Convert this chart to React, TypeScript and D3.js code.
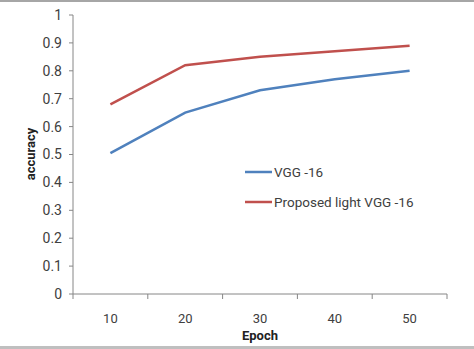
import React from "react";
import * as d3 from "d3";

const epochs = ["10", "20", "30", "40", "50"];
const vgg16 = [0.505, 0.65, 0.73, 0.77, 0.80];
const proposed = [0.68, 0.82, 0.85, 0.87, 0.89];
const yTicks = [0, 0.1, 0.2, 0.3, 0.4, 0.5, 0.6, 0.7, 0.8, 0.9, 1];
const seriesNames = ["VGG -16", "Proposed light VGG -16"];
const colors = ["#4F81BD", "#C0504D"];

const W = 474, H = 349;
const font = "'Liberation Sans Narrow', 'Arial Narrow', Roboto, sans-serif";

export default function App() {
  const x = d3.scaleBand<string>().domain(epochs).range([73, 447]);
  const y = d3.scaleLinear().domain([0, 1]).range([294, 15]);
  const line = d3.line<number>()
    .x((_, i) => (x(epochs[i]) as number) + x.bandwidth() / 2)
    .y((d) => y(d));
  const series = [vgg16, proposed];
  return (
    <div style={{ position: "fixed", left: 0, top: 0 }}>
      <svg width={W} height={H} style={{ display: "block", background: "#fff" }}>
        <rect x={0} y={0} width={W} height={2} fill="#a6a6a6" />
        <rect x={0} y={346} width={W} height={3} fill="#bfbfbf" />
        {/* y axis */}
        <line x1={73} x2={73} y1={y(1)} y2={y(0)} stroke="#868686" strokeWidth={1} />
        {yTicks.map((t) => (
          <g key={t}>
            <line x1={69} x2={73} y1={y(t)} y2={y(t)} stroke="#868686" />
            <text x={62} y={y(t)} dy="0.35em" textAnchor="end" fontFamily={font} fontSize={14} fill="#404040">
              {String(t)}
            </text>
          </g>
        ))}
        {/* x axis */}
        <line x1={73} x2={447} y1={y(0)} y2={y(0)} stroke="#868686" />
        {epochs.map((e, i) => (
          <g key={e}>
            <line x1={(x(e) as number) + x.bandwidth()} x2={(x(e) as number) + x.bandwidth()} y1={y(0)} y2={y(0) + 5} stroke="#868686" />
            <text x={(x(e) as number) + x.bandwidth() / 2} y={318} dy="0.35em" textAnchor="middle" fontFamily={font} fontSize={13} fill="#404040">
              {e}
            </text>
          </g>
        ))}
        <line x1={73} x2={73} y1={y(0)} y2={y(0) + 5} stroke="#868686" />
        <text x={260} y={335} dy="0.35em" textAnchor="middle" fontFamily={font} fontSize={13} fontWeight="bold" fill="#222">
          Epoch
        </text>
        <text transform="translate(30,154) rotate(-90)" textAnchor="middle" dy="0.35em" fontFamily={font} fontSize={13} fontWeight="bold" fill="#222">
          accuracy
        </text>
        {series.map((s, i) => (
          <path key={i} d={line(s) || ""} fill="none" stroke={colors[i]} strokeWidth={2.5} />
        ))}
        {seriesNames.map((n, i) => (
          <g key={n}>
            <line x1={245} x2={272} y1={172 + i * 30} y2={172 + i * 30} stroke={colors[i]} strokeWidth={2.5} />
            <text x={274} y={172 + i * 30} dy="0.35em" fontFamily={font} fontSize={13.5} fill="#404040">
              {n}
            </text>
          </g>
        ))}
      </svg>
    </div>
  );
}
